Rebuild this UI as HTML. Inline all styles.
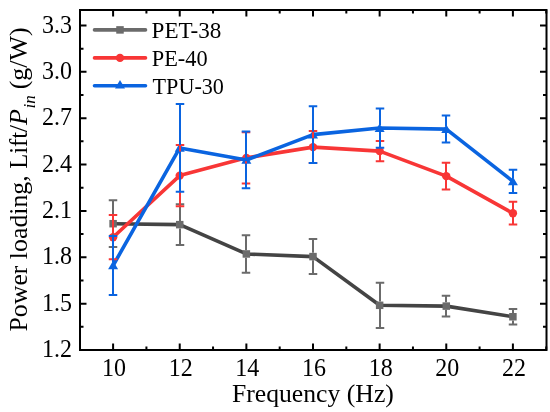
<!DOCTYPE html><html><head><meta charset="utf-8"><style>html,body{margin:0;padding:0;background:#fff;}svg{display:block;}text{font-family:"Liberation Serif", "Times New Roman", serif;fill:#000;}</style></head><body>
<svg width="550" height="412" viewBox="0 0 550 412">
<rect width="550" height="412" fill="#fff"/>
<path d="M113.1 223.7 L179.73 224.65 L246.37 253.95 L313 256.6 L379.64 305.3 L446.27 306.1 L512.9 316.75" fill="none" stroke="#444444" stroke-width="3.6" stroke-linejoin="round" stroke-linecap="butt"/>
<rect x="109.35" y="219.95" width="7.5" height="7.5" fill="#6b6b6b"/>
<rect x="175.98" y="220.9" width="7.5" height="7.5" fill="#6b6b6b"/>
<rect x="242.62" y="250.2" width="7.5" height="7.5" fill="#6b6b6b"/>
<rect x="309.25" y="252.85" width="7.5" height="7.5" fill="#6b6b6b"/>
<rect x="375.89" y="301.55" width="7.5" height="7.5" fill="#6b6b6b"/>
<rect x="442.52" y="302.35" width="7.5" height="7.5" fill="#6b6b6b"/>
<rect x="509.15" y="313" width="7.5" height="7.5" fill="#6b6b6b"/>
<path d="M113.1 237.2 L179.73 175.6 L246.37 157.85 L313 147.1 L379.64 151.1 L446.27 176.15 L512.9 213.2" fill="none" stroke="#f83636" stroke-width="3.6" stroke-linejoin="round" stroke-linecap="butt"/>
<circle cx="113.1" cy="237.2" r="4.2" fill="#f83636"/>
<circle cx="179.73" cy="175.6" r="4.2" fill="#f83636"/>
<circle cx="246.37" cy="157.85" r="4.2" fill="#f83636"/>
<circle cx="313" cy="147.1" r="4.2" fill="#f83636"/>
<circle cx="379.64" cy="151.1" r="4.2" fill="#f83636"/>
<circle cx="446.27" cy="176.15" r="4.2" fill="#f83636"/>
<circle cx="512.9" cy="213.2" r="4.2" fill="#f83636"/>
<path d="M113.1 265.5 L179.73 147.95 L246.37 159.95 L313 134.65 L379.64 128.05 L446.27 129.1 L512.9 181.35" fill="none" stroke="#0a64e0" stroke-width="3.6" stroke-linejoin="round" stroke-linecap="butt"/>
<path d="M113.1 260.82 L108.1 269.32 L118.1 269.32 Z" fill="#0a64e0"/>
<path d="M179.73 143.27 L174.73 151.77 L184.73 151.77 Z" fill="#0a64e0"/>
<path d="M246.37 155.27 L241.37 163.77 L251.37 163.77 Z" fill="#0a64e0"/>
<path d="M313 129.97 L308 138.47 L318 138.47 Z" fill="#0a64e0"/>
<path d="M379.64 123.38 L374.64 131.88 L384.64 131.88 Z" fill="#0a64e0"/>
<path d="M446.27 124.42 L441.27 132.92 L451.27 132.92 Z" fill="#0a64e0"/>
<path d="M512.9 176.67 L507.9 185.17 L517.9 185.17 Z" fill="#0a64e0"/>
<path d="M113 200.3 V219.95 M113 227.45 V247.1 M108.75 200.3 H117.25 M108.75 247.1 H117.25" fill="none" stroke="#6b6b6b" stroke-width="2"/>
<path d="M180 204.3 V220.9 M180 228.4 V245 M175.75 204.3 H184.25 M175.75 245 H184.25" fill="none" stroke="#6b6b6b" stroke-width="2"/>
<path d="M246 235.2 V250.2 M246 257.7 V272.7 M241.75 235.2 H250.25 M241.75 272.7 H250.25" fill="none" stroke="#6b6b6b" stroke-width="2"/>
<path d="M313 239.1 V252.85 M313 260.35 V274.1 M308.75 239.1 H317.25 M308.75 274.1 H317.25" fill="none" stroke="#6b6b6b" stroke-width="2"/>
<path d="M380 282.7 V301.55 M380 309.05 V327.9 M375.75 282.7 H384.25 M375.75 327.9 H384.25" fill="none" stroke="#6b6b6b" stroke-width="2"/>
<path d="M446 295.8 V302.35 M446 309.85 V316.4 M441.75 295.8 H450.25 M441.75 316.4 H450.25" fill="none" stroke="#6b6b6b" stroke-width="2"/>
<path d="M513 308.9 V313 M513 320.5 V324.6 M508.75 308.9 H517.25 M508.75 324.6 H517.25" fill="none" stroke="#6b6b6b" stroke-width="2"/>
<path d="M113 215.1 V233.7 M113 240.7 V259.3 M108.75 215.1 H117.25 M108.75 259.3 H117.25" fill="none" stroke="#f83636" stroke-width="2"/>
<path d="M180 144.9 V172.1 M180 179.1 V206.3 M175.75 144.9 H184.25 M175.75 206.3 H184.25" fill="none" stroke="#f83636" stroke-width="2"/>
<path d="M246 132.3 V154.35 M246 161.35 V183.4 M241.75 132.3 H250.25 M241.75 183.4 H250.25" fill="none" stroke="#f83636" stroke-width="2"/>
<path d="M313 131.1 V143.6 M313 150.6 V163.1 M308.75 131.1 H317.25 M308.75 163.1 H317.25" fill="none" stroke="#f83636" stroke-width="2"/>
<path d="M380 140.9 V147.6 M380 154.6 V161.3 M375.75 140.9 H384.25 M375.75 161.3 H384.25" fill="none" stroke="#f83636" stroke-width="2"/>
<path d="M446 162.7 V172.65 M446 179.65 V189.6 M441.75 162.7 H450.25 M441.75 189.6 H450.25" fill="none" stroke="#f83636" stroke-width="2"/>
<path d="M513 201.8 V209.7 M513 216.7 V224.6 M508.75 201.8 H517.25 M508.75 224.6 H517.25" fill="none" stroke="#f83636" stroke-width="2"/>
<path d="M113 236 V262.5 M113 269.1 V295 M108.75 236 H117.25 M108.75 295 H117.25" fill="none" stroke="#0a64e0" stroke-width="2"/>
<path d="M180 104.1 V144.95 M180 151.55 V191.8 M175.75 104.1 H184.25 M175.75 191.8 H184.25" fill="none" stroke="#0a64e0" stroke-width="2"/>
<path d="M246 131.6 V156.95 M246 163.55 V188.3 M241.75 131.6 H250.25 M241.75 188.3 H250.25" fill="none" stroke="#0a64e0" stroke-width="2"/>
<path d="M313 106.2 V131.65 M313 138.25 V163.1 M308.75 106.2 H317.25 M308.75 163.1 H317.25" fill="none" stroke="#0a64e0" stroke-width="2"/>
<path d="M380 108.4 V125.05 M380 131.65 V147.7 M375.75 108.4 H384.25 M375.75 147.7 H384.25" fill="none" stroke="#0a64e0" stroke-width="2"/>
<path d="M446 115.6 V126.1 M446 132.7 V142.6 M441.75 115.6 H450.25 M441.75 142.6 H450.25" fill="none" stroke="#0a64e0" stroke-width="2"/>
<path d="M513 169.7 V178.35 M513 184.95 V193 M508.75 169.7 H517.25 M508.75 193 H517.25" fill="none" stroke="#0a64e0" stroke-width="2"/>
<rect x="80" y="10" width="466.5" height="340" fill="none" stroke="#000" stroke-width="2"/>
<path d="M113.1 350 v-6.5 M113.1 10 v6.5 M179.73 350 v-6.5 M179.73 10 v6.5 M246.37 350 v-6.5 M246.37 10 v6.5 M313 350 v-6.5 M313 10 v6.5 M379.64 350 v-6.5 M379.64 10 v6.5 M446.27 350 v-6.5 M446.27 10 v6.5 M512.9 350 v-6.5 M512.9 10 v6.5 M146.42 350 v-3.5 M146.42 10 v3.5 M213.05 350 v-3.5 M213.05 10 v3.5 M279.69 350 v-3.5 M279.69 10 v3.5 M346.32 350 v-3.5 M346.32 10 v3.5 M412.95 350 v-3.5 M412.95 10 v3.5 M479.59 350 v-3.5 M479.59 10 v3.5 M546.22 350 v-3.5 M546.22 10 v3.5 M80 350 h6.5 M546.5 350 h-6.5 M80 303.63 h6.5 M546.5 303.63 h-6.5 M80 257.27 h6.5 M546.5 257.27 h-6.5 M80 210.91 h6.5 M546.5 210.91 h-6.5 M80 164.54 h6.5 M546.5 164.54 h-6.5 M80 118.17 h6.5 M546.5 118.17 h-6.5 M80 71.81 h6.5 M546.5 71.81 h-6.5 M80 25.45 h6.5 M546.5 25.45 h-6.5 M80 326.82 h3.5 M546.5 326.82 h-3.5 M80 280.45 h3.5 M546.5 280.45 h-3.5 M80 234.09 h3.5 M546.5 234.09 h-3.5 M80 187.72 h3.5 M546.5 187.72 h-3.5 M80 141.36 h3.5 M546.5 141.36 h-3.5 M80 94.99 h3.5 M546.5 94.99 h-3.5 M80 48.63 h3.5 M546.5 48.63 h-3.5" stroke="#000" stroke-width="2" fill="none"/>
<text transform="translate(72 357.1) scale(1 1.08)" text-anchor="end" font-size="24">1.2</text>
<text transform="translate(72 310.74) scale(1 1.08)" text-anchor="end" font-size="24">1.5</text>
<text transform="translate(72 264.37) scale(1 1.08)" text-anchor="end" font-size="24">1.8</text>
<text transform="translate(72 218.01) scale(1 1.08)" text-anchor="end" font-size="24">2.1</text>
<text transform="translate(72 171.64) scale(1 1.08)" text-anchor="end" font-size="24">2.4</text>
<text transform="translate(72 125.27) scale(1 1.08)" text-anchor="end" font-size="24">2.7</text>
<text transform="translate(72 78.91) scale(1 1.08)" text-anchor="end" font-size="24">3.0</text>
<text transform="translate(72 32.55) scale(1 1.08)" text-anchor="end" font-size="24">3.3</text>
<text transform="translate(114.1 376) scale(1 1.08)" text-anchor="middle" font-size="24">10</text>
<text transform="translate(180.73 376) scale(1 1.08)" text-anchor="middle" font-size="24">12</text>
<text transform="translate(247.37 376) scale(1 1.08)" text-anchor="middle" font-size="24">14</text>
<text transform="translate(314 376) scale(1 1.08)" text-anchor="middle" font-size="24">16</text>
<text transform="translate(380.64 376) scale(1 1.08)" text-anchor="middle" font-size="24">18</text>
<text transform="translate(447.27 376) scale(1 1.08)" text-anchor="middle" font-size="24">20</text>
<text transform="translate(513.9 376) scale(1 1.08)" text-anchor="middle" font-size="24">22</text>
<text transform="translate(231.9 401.7) scale(1 1.0)" font-size="26" textLength="162" lengthAdjust="spacingAndGlyphs">Frequency (Hz)</text>
<text transform="translate(27.1 331.5) rotate(-90)" font-size="25.8"><tspan x="0" y="0">Power loading, </tspan><tspan x="162.66" y="0" textLength="36.9" lengthAdjust="spacingAndGlyphs">Lift</tspan><tspan x="199.3" y="0">/</tspan><tspan x="206.4" y="0" font-size="26" font-style="italic">P</tspan><tspan x="223" y="8.3" font-size="17" font-style="italic">in</tspan><tspan x="242.2" y="0" font-size="26">(g/W)</tspan></text>
<path d="M94.5 29.9 H145.5" stroke="#6b6b6b" stroke-width="3.6" stroke-linecap="round"/>
<rect x="116.25" y="26.15" width="7.5" height="7.5" fill="#6b6b6b"/>
<text transform="translate(151.6 37.8) scale(1 1.0)" font-size="24" textLength="69.8" lengthAdjust="spacingAndGlyphs">PET-38</text>
<path d="M94.5 57.9 H145.5" stroke="#f83636" stroke-width="3.6" stroke-linecap="round"/>
<circle cx="120" cy="57.9" r="4.2" fill="#f83636"/>
<text transform="translate(151.8 65.8) scale(1 1.0)" font-size="24" textLength="55.8" lengthAdjust="spacingAndGlyphs">PE-40</text>
<path d="M94.5 85.7 H145.5" stroke="#0a64e0" stroke-width="3.6" stroke-linecap="round"/>
<path d="M120 80.12 L115 88.62 L125 88.62 Z" fill="#0a64e0"/>
<text transform="translate(152.6 93.6) scale(1 1.0)" font-size="24" textLength="71.3" lengthAdjust="spacingAndGlyphs">TPU-30</text>
</svg></body></html>
